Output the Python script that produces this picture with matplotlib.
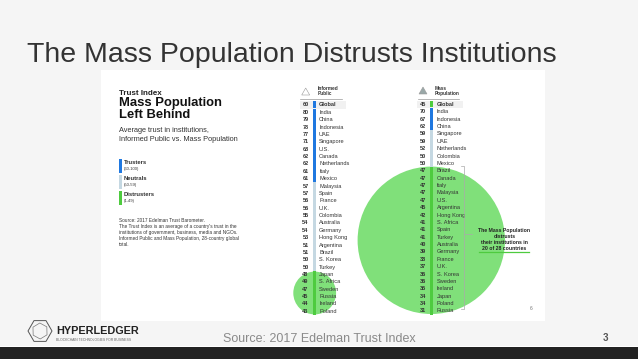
"""Trust index slide: informed public vs. mass population."""

import matplotlib

matplotlib.use("Agg")
import matplotlib.pyplot as plt
import numpy as np
from matplotlib.patches import Circle, Polygon, Rectangle

plt.rcParams["font.family"] = ["Liberation Sans", "DejaVu Sans"]

INFORMED_NAMES = ["Global", "India", "China", "Indonesia", "UAE", "Singapore", "U.S.", "Canada",
                  "Netherlands", "Italy", "Mexico", "Malaysia", "Spain", "France", "U.K.", "Colombia",
                  "Australia", "Germany", "Hong Kong", "Argentina", "Brazil", "S. Korea", "Turkey",
                  "Japan", "S. Africa", "Sweden", "Russia", "Ireland", "Poland"]
INFORMED_VALUES = [60, 80, 79, 78, 77, 71, 68, 62, 62, 61, 61, 57, 57, 56, 56, 55, 54, 54, 53, 51,
                   51, 50, 50, 48, 49, 47, 45, 44, 43]
MASS_NAMES = ["Global", "India", "Indonesia", "China", "Singapore", "UAE", "Netherlands", "Colombia",
              "Mexico", "Brazil", "Canada", "Italy", "Malaysia", "U.S.", "Argentina", "Hong Kong",
              "S. Africa", "Spain", "Turkey", "Australia", "Germany", "France", "U.K.", "S. Korea",
              "Sweden", "Ireland", "Japan", "Poland", "Russia"]
MASS_VALUES = [45, 70, 67, 62, 59, 59, 52, 50, 50, 47, 47, 47, 47, 47, 45, 42, 41, 41, 41, 40, 39,
               38, 37, 36, 36, 35, 34, 34, 31]

LEGEND_NAMES = ["Trusters", "Neutrals", "Distrusters"]
LEGEND_RANGES = ["(60-100)", "(50-59)", "(1-49)"]
SOURCE_LINES = ["Source: 2017 Edelman Trust Barometer.",
                "The Trust Index is an average of a country's trust in the",
                "institutions of government, business, media and NGOs.",
                "Informed Public and Mass Population, 28-country global",
                "total."]
CALLOUT_LINES = ["The Mass Population", "distrusts", "their institutions in", "20 of 28 countries"]

BLUE = "#1f78e0"
GREY_BLUE = "#c5d8e2"
GREEN = "#4ecb3f"
BLOB = "#80e07a"
TEXT = "#333333"


def bar_color(v):
    if v >= 60:
        return BLUE
    return GREY_BLUE if v >= 50 else GREEN


def draw_column(ax, names, values, x_num, x_bar, x_name, y0):
    step = 7.37
    ax.add_patch(Rectangle((x_num - 6, y0 - 3.6), 46, 7.4, color="#f1f1f1", zorder=2, lw=0))
    for i, (name, val) in enumerate(zip(names, values)):
        y = y0 + i * step
        weight = "bold" if i == 0 else "normal"
        # global row sits apart from the country rows
        h = step - 1 if i == 0 else step + 0.4
        ax.add_patch(Rectangle((x_bar - 1.5, y - step / 2), 3, h,
                               color=bar_color(val), lw=0, zorder=3))
        ax.text(x_num, y, str(val), ha="center", va="center", fontsize=4.0, fontweight="bold",
                color=TEXT, zorder=4)
        ax.text(x_name, y, name, ha="left", va="center", fontsize=4.05, fontweight=weight,
                color=TEXT, zorder=4)


def draw_logo(ax):
    t = np.deg2rad(np.arange(0, 360, 60))
    ax.add_patch(Polygon(np.c_[40 + 12 * np.cos(t), 331 + 12 * np.sin(t)], fill=False,
                         ec="#555555", lw=0.7))
    ax.add_patch(Polygon(np.c_[40 + 8 * np.cos(t + 0.5), 331 + 8 * np.sin(t + 0.5)], fill=False,
                         ec="#777777", lw=0.5))
    ax.text(56, 331, "HYPERLEDGER", ha="left", va="center", fontsize=7.8, fontweight="bold",
            color="#222222")
    ax.text(56, 340, "BLOCKCHAIN TECHNOLOGIES FOR BUSINESS", ha="left", va="center", fontsize=2.4,
            color="#666666")


def main():
    fig = plt.figure(figsize=(6.38, 3.59), dpi=100, facecolor="#f5f5f5")
    ax = fig.add_axes([0, 0, 1, 1])
    ax.set_xlim(0, 638)
    ax.set_ylim(359, 0)
    ax.axis("off")

    ax.text(27, 54.5, "The Mass Population Distrusts Institutions", ha="left", va="center",
            fontsize=20.5, color="#333333")

    ax.add_patch(Rectangle((100.5, 70), 444, 251, color="white", lw=0))
    ax.add_patch(Circle((314.7, 293), 21.4, color=BLOB, lw=0, zorder=1))
    ax.add_patch(Circle((431.3, 240.3), 73.7, color=BLOB, lw=0, zorder=1))

    # left text block
    ax.text(119, 93.3, "Trust Index", fontsize=5.8, fontweight="bold", va="center", color="#222222")
    ax.text(119, 103.3, "Mass Population", fontsize=9.4, fontweight="bold", va="center", color="#111111")
    ax.text(119, 115.3, "Left Behind", fontsize=9.4, fontweight="bold", va="center", color="#111111")
    ax.text(119, 130.7, "Average trust in institutions,", fontsize=5.3, va="center", color=TEXT)
    ax.text(119, 139.5, "Informed Public vs. Mass Population", fontsize=5.3, va="center", color=TEXT)

    for i, (name, rng, col) in enumerate(zip(LEGEND_NAMES, LEGEND_RANGES, [BLUE, GREY_BLUE, GREEN])):
        top = 158.5 + i * 16
        ax.add_patch(Rectangle((118.5, top), 3, 14.5, color=col, lw=0))
        ax.text(124, top + 4.5, name, fontsize=4.2, fontweight="bold", va="center", color=TEXT)
        ax.text(124, top + 10.5, rng, fontsize=3.0, va="center", color=TEXT)

    for i, line in enumerate(SOURCE_LINES):
        ax.text(119, 221 + i * 5.8, line, fontsize=3.4, va="center", color=TEXT)

    # column headers
    for x, y, col in [(305.7, 92, "#dddddd"), (423, 91, "#99a8a8")]:
        ax.add_patch(Polygon([(x - 4, y + 3), (x + 4, y + 3), (x, y - 4)], closed=True,
                             fc="white" if col == "#dddddd" else col, ec="#999999", lw=0.4))
    ax.text(318, 88.7, "Informed", fontsize=3.4, fontweight="bold", va="center", color=TEXT)
    ax.text(318, 93.7, "Public", fontsize=3.4, fontweight="bold", va="center", color=TEXT)
    ax.text(435, 88, "Mass", fontsize=3.4, fontweight="bold", va="center", color=TEXT)
    ax.text(435, 93.3, "Population", fontsize=3.4, fontweight="bold", va="center", color=TEXT)
    ax.plot([300, 342], [99, 99], color="#999999", lw=0.5)
    ax.plot([418, 459], [98.7, 98.7], color="#999999", lw=0.5)

    draw_column(ax, INFORMED_NAMES, INFORMED_VALUES, 305.5, 314.3, 319, 105)
    draw_column(ax, MASS_NAMES, MASS_VALUES, 423, 431.7, 436.7, 104.5)

    # bracket and callout
    ax.plot([461, 464, 464, 461], [166, 166, 309, 309], color="#aaaaaa", lw=0.5, zorder=4)
    ax.plot([464, 472], [234, 234], color="#aaaaaa", lw=0.5, zorder=4)
    for y, line in zip([230.3, 236.7, 242.7, 248.7], CALLOUT_LINES):
        ax.text(504.5, y, line, ha="center", va="center", fontsize=3.7, fontweight="bold",
                color="#222222", zorder=4)
    ax.plot([479, 529], [252.3, 252.3], color=GREEN, lw=0.9, zorder=4)
    ax.text(530.7, 308, "6", ha="center", va="center", fontsize=3.5, color="#777777")

    # footer
    draw_logo(ax)
    ax.text(223, 338.5, "Source: 2017 Edelman Trust Index", ha="left", va="center", fontsize=9,
            color="#8a8a8a")
    ax.text(605, 338, "3", ha="center", va="center", fontsize=7, fontweight="bold", color="#555555")
    ax.add_patch(Rectangle((0, 346), 638, 1.3, color="white", lw=0))
    ax.add_patch(Rectangle((0, 347.3), 638, 12, color="#222222", lw=0))

    fig.savefig("out.png", dpi=100, facecolor=fig.get_facecolor())
    plt.close(fig)


if __name__ == "__main__":
    main()
